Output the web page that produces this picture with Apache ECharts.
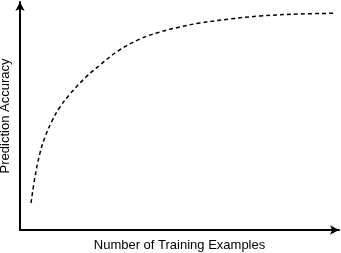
<!DOCTYPE html>
<html><head><meta charset="utf-8">
<script src="https://cdn.jsdelivr.net/npm/echarts@6/dist/echarts.min.js"></script>
<style>html,body{margin:0;padding:0;background:#fff}#c{width:341px;height:253px}</style>
</head><body><div id="c"></div>
<script>
const trainingExamples = [3.45, 4.70, 6.27, 7.84, 10.03, 12.54, 15.67, 20.38, 25.08, 30.72, 37.62, 43.89, 50.16, 56.43, 65.83, 75.24, 87.77, 98.75];
const accuracy = [11.84, 23.25, 33.77, 40.79, 47.81, 53.95, 59.65, 66.67, 72.37, 78.51, 83.77, 86.84, 89.04, 90.79, 92.54, 93.86, 94.74, 95.04];
const xAxisName = 'Number of Training Examples';
const yAxisName = 'Prediction Accuracy';

const chart = echarts.init(document.getElementById('c'), null, {renderer: 'canvas'});
const axisCommon = {
  type: 'value', min: 0, max: 100,
  axisTick: {show: false}, axisLabel: {show: false}, splitLine: {show: false},
  nameLocation: 'middle',
  nameTextStyle: {fontFamily: 'Liberation Sans', fontSize: 13, color: '#000'},
  axisLine: {show: true, onZero: false, symbol: ['none', 'arrow'], symbolSize: [7, 9], symbolOffset: [0, 0],
    lineStyle: {color: '#000', width: 2}}
};
chart.setOption({
  animation: false,
  grid: {left: 20, right: 2, top: 2, bottom: 23, containLabel: false, outerBoundsMode: 'none'},
  xAxis: Object.assign({}, axisCommon, {name: xAxisName, nameGap: 9}),
  yAxis: Object.assign({}, axisCommon, {name: yAxisName, nameGap: 8}),
  series: [{
    type: 'line', smooth: 0.4, showSymbol: false,
    data: trainingExamples.map((x, i) => [x, accuracy[i]]),
    lineStyle: {color: '#000', width: 1.5, type: [4, 3]}
  }]
});
</script></body></html>
